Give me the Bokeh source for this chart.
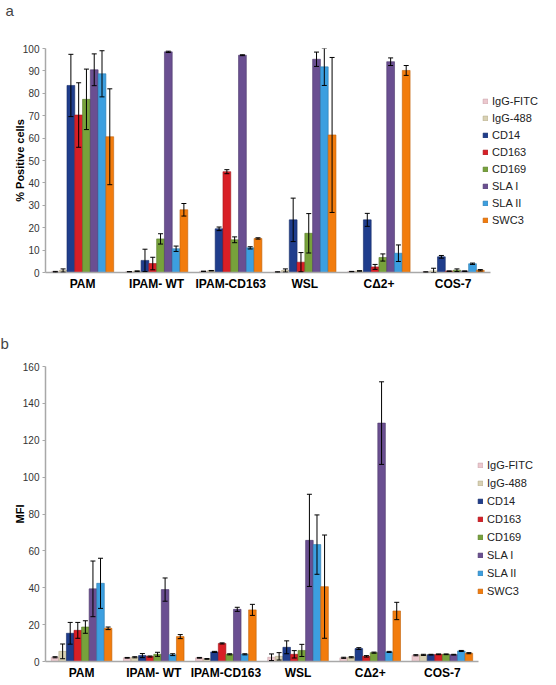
from bokeh.plotting import figure
from bokeh.models import (ColumnDataSource, Range1d, Whisker, TeeHead, Legend, LegendItem,
                          FixedTicker, Title)
from bokeh.transform import dodge
from bokeh.layouts import column
from bokeh.embed import file_html
from bokeh.resources import INLINE

groups = ["PAM", "IPAM- WT", "IPAM-CD163", "WSL", "C\u03942+", "COS-7"]
series = ["IgG-FITC", "IgG-488", "CD14", "CD163", "CD169", "SLA I", "SLA II", "SWC3"]
fills = ["#ecc8ce", "#d9d1b3", "#1f3d8c", "#d81f26", "#77a23b", "#6a4f91", "#3c9fe0", "#f27c0d"]
edges = ["#c9a2a9", "#b3aa88", "#162c66", "#a3161b", "#577a28", "#4c386a", "#2a78ad", "#c1620a"]

# panel a: % positive cells
a_igg_fitc = [0.3, 0.3, 0.5, 0.2, 0.4, 0.2]
a_igg_fitc_err = [0.2, 0.1, 0.1, 0.1, 0.1, 0.1]
a_igg_488 = [0.9, 0.6, 0.8, 0.9, 0.7, 0.7]
a_igg_488_err = [0.7, 0.1, 0.1, 0.7, 0.1, 1.2]
a_cd14 = [83.5, 5.4, 19.5, 23.5, 23.5, 7.0]
a_cd14_err = [13.9, 5.0, 0.8, 9.7, 2.9, 0.6]
a_cd163 = [70.3, 4.0, 45.0, 4.6, 2.5, 0.6]
a_cd163_err = [14.4, 2.8, 0.9, 4.3, 1.1, 0.1]
a_cd169 = [77.3, 15.0, 14.6, 17.5, 6.7, 1.0]
a_cd169_err = [13.5, 2.3, 1.3, 8.8, 1.6, 0.6]
a_sla1 = [90.5, 98.5, 97.0, 95.2, 94.1, 0.6]
a_sla1_err = [7.1, 0.3, 0.2, 3.2, 1.7, 0.1]
a_sla2 = [88.7, 10.6, 11.0, 91.8, 8.6, 3.9]
a_sla2_err = [10.3, 1.2, 0.5, 8.3, 3.7, 0.3]
a_swc3 = [60.6, 28.0, 15.2, 61.4, 90.2, 1.0]
a_swc3_err = [21.4, 2.8, 0.3, 34.6, 2.2, 0.3]

# panel b: MFI
b_igg_fitc = [2.3, 2.0, 2.0, 2.3, 2.0, 3.4]
b_igg_fitc_err = [0.3, 0.2, 0.2, 1.8, 0.3, 0.3]
b_igg_488 = [5.5, 2.3, 1.4, 2.8, 2.3, 3.6]
b_igg_488_err = [4.0, 0.3, 0.2, 2.0, 0.3, 0.3]
b_cd14 = [15.3, 3.2, 5.2, 7.7, 7.0, 3.7]
b_cd14_err = [5.9, 1.1, 0.3, 3.5, 0.5, 0.2]
b_cd163 = [16.9, 2.7, 9.8, 3.9, 2.8, 3.9]
b_cd163_err = [4.3, 0.3, 0.3, 2.0, 0.4, 0.2]
b_cd169 = [18.7, 3.9, 3.9, 6.0, 4.8, 3.9]
b_cd169_err = [3.4, 1.1, 0.3, 3.3, 0.3, 0.2]
b_sla1 = [39.4, 39.0, 28.3, 65.7, 129.3, 3.7]
b_sla1_err = [15.1, 6.3, 1.1, 25.0, 22.4, 0.2]
b_sla2 = [42.4, 3.7, 3.9, 63.4, 5.2, 5.7]
b_sla2_err = [13.6, 0.5, 0.3, 16.1, 0.3, 0.3]
b_swc3 = [18.0, 13.5, 28.0, 40.6, 27.4, 4.5]
b_swc3_err = [0.7, 1.1, 3.0, 28.0, 4.7, 0.3]

a_values = [a_igg_fitc, a_igg_488, a_cd14, a_cd163, a_cd169, a_sla1, a_sla2, a_swc3]
a_errors = [a_igg_fitc_err, a_igg_488_err, a_cd14_err, a_cd163_err, a_cd169_err, a_sla1_err, a_sla2_err, a_swc3_err]
b_values = [b_igg_fitc, b_igg_488, b_cd14, b_cd163, b_cd169, b_sla1, b_sla2, b_swc3]
b_errors = [b_igg_fitc_err, b_igg_488_err, b_cd14_err, b_cd163_err, b_cd169_err, b_sla1_err, b_sla2_err, b_swc3_err]

FONT = "Liberation Sans"
BAR_W = 0.105
group_idx = list(range(len(groups)))


def make_panel(letter, values, errors, ymax, ystep, ylabel, height, border, x_end,
               legend_loc, spacing, spacer_size, spacer):
    p = figure(x_range=Range1d(-0.5, x_end), y_range=Range1d(0, ymax),
               width=540, height=height, output_backend="svg", toolbar_location=None,
               min_border_left=border[0], min_border_right=border[1],
               min_border_top=border[2], min_border_bottom=border[3])
    p.title.text = letter
    p.title.text_font = FONT
    p.title.text_font_size = "15px"
    p.title.text_font_style = "normal"
    p.title.align = "left"
    p.title.vertical_align = "top"
    p.title.offset = -border[0]
    p.title.standoff = 0
    # empty spacer between the panel letter and the plot frame
    p.add_layout(Title(text=" ", text_font=FONT, text_font_size=spacer_size, standoff=spacer), "above")
    p.outline_line_color = None
    p.xgrid.grid_line_color = None
    p.ygrid.grid_line_color = None

    items = []
    for i, (name, vals, errs) in enumerate(zip(series, values, errors)):
        src = ColumnDataSource(dict(
            xi=group_idx, value=vals,
            upper=[v + e for v, e in zip(vals, errs)],
            lower=[max(v - e, 0) for v, e in zip(vals, errs)]))
        off = (i - 3.5) * BAR_W
        r = p.vbar(x=dodge("xi", off), top="value", width=BAR_W,
                   source=src, fill_color=fills[i], line_color=edges[i], line_width=0.6)
        w = Whisker(base=dodge("xi", off), upper="upper", lower="lower",
                    source=src, dimension="height", line_color="black", line_width=1,
                    upper_head=TeeHead(size=5, line_color="black", line_width=1),
                    lower_head=TeeHead(size=5, line_color="black", line_width=1),
                    level="overlay")
        p.add_layout(w)
        items.append(LegendItem(label=name, renderers=[r]))

    leg = Legend(items=items, location=legend_loc, padding=0, margin=0, spacing=spacing,
                 glyph_width=6, glyph_height=6, label_height=13, label_standoff=4,
                 label_text_font=FONT, label_text_font_size="11px", label_text_color="#222222",
                 border_line_color=None, background_fill_alpha=0)
    p.add_layout(leg)

    p.yaxis.ticker = list(range(0, ymax + 1, ystep))
    p.yaxis.axis_label = ylabel
    p.yaxis.axis_label_text_font = FONT
    p.yaxis.axis_label_text_font_style = "bold"
    p.yaxis.axis_label_text_font_size = "11px"
    p.yaxis.axis_label_text_color = "black"
    p.yaxis.axis_label_standoff = -6
    p.yaxis.major_label_text_font = FONT
    p.yaxis.major_label_text_font_size = "10px"
    p.yaxis.major_label_text_color = "#333333"
    p.yaxis.major_label_standoff = 3
    p.yaxis.axis_line_color = "#a8a8a8"
    p.yaxis.axis_line_width = 1.5
    p.yaxis.major_tick_line_color = "#a8a8a8"
    p.yaxis.major_tick_out = 3
    p.yaxis.major_tick_in = 0
    p.yaxis.minor_tick_line_color = None

    p.xaxis.ticker = FixedTicker(ticks=group_idx)
    p.xaxis.major_label_overrides = {i: g for i, g in zip(group_idx, groups)}
    p.xaxis.bounds = (-0.5, len(groups) - 0.5)
    p.xaxis.axis_line_color = "#a8a8a8"
    p.xaxis.axis_line_width = 1.5
    p.xaxis.major_tick_line_color = None
    p.xaxis.minor_tick_line_color = None
    p.xaxis.major_tick_out = 0
    p.xaxis.major_tick_in = 0
    p.xaxis.major_label_text_font = FONT
    p.xaxis.major_label_text_font_style = "bold"
    p.xaxis.major_label_text_font_size = "12px"
    p.xaxis.major_label_text_color = "black"
    p.xaxis.major_label_standoff = 4
    return p


pa = make_panel("a", a_values, a_errors, 100, 10, "% Positive cells", 334,
                (40, 0, 48, 62), 6.18, (437, 46), 4, "15px", 9)
pb = make_panel("b", b_values, b_errors, 160, 20, "MFI", 349,
                (45, 0, 31, 22), 6.36, (432, 64), 5, "10px", 0)

layout = column(pa, pb, spacing=0)
open("out.html", "w").write(file_html(layout, INLINE))
